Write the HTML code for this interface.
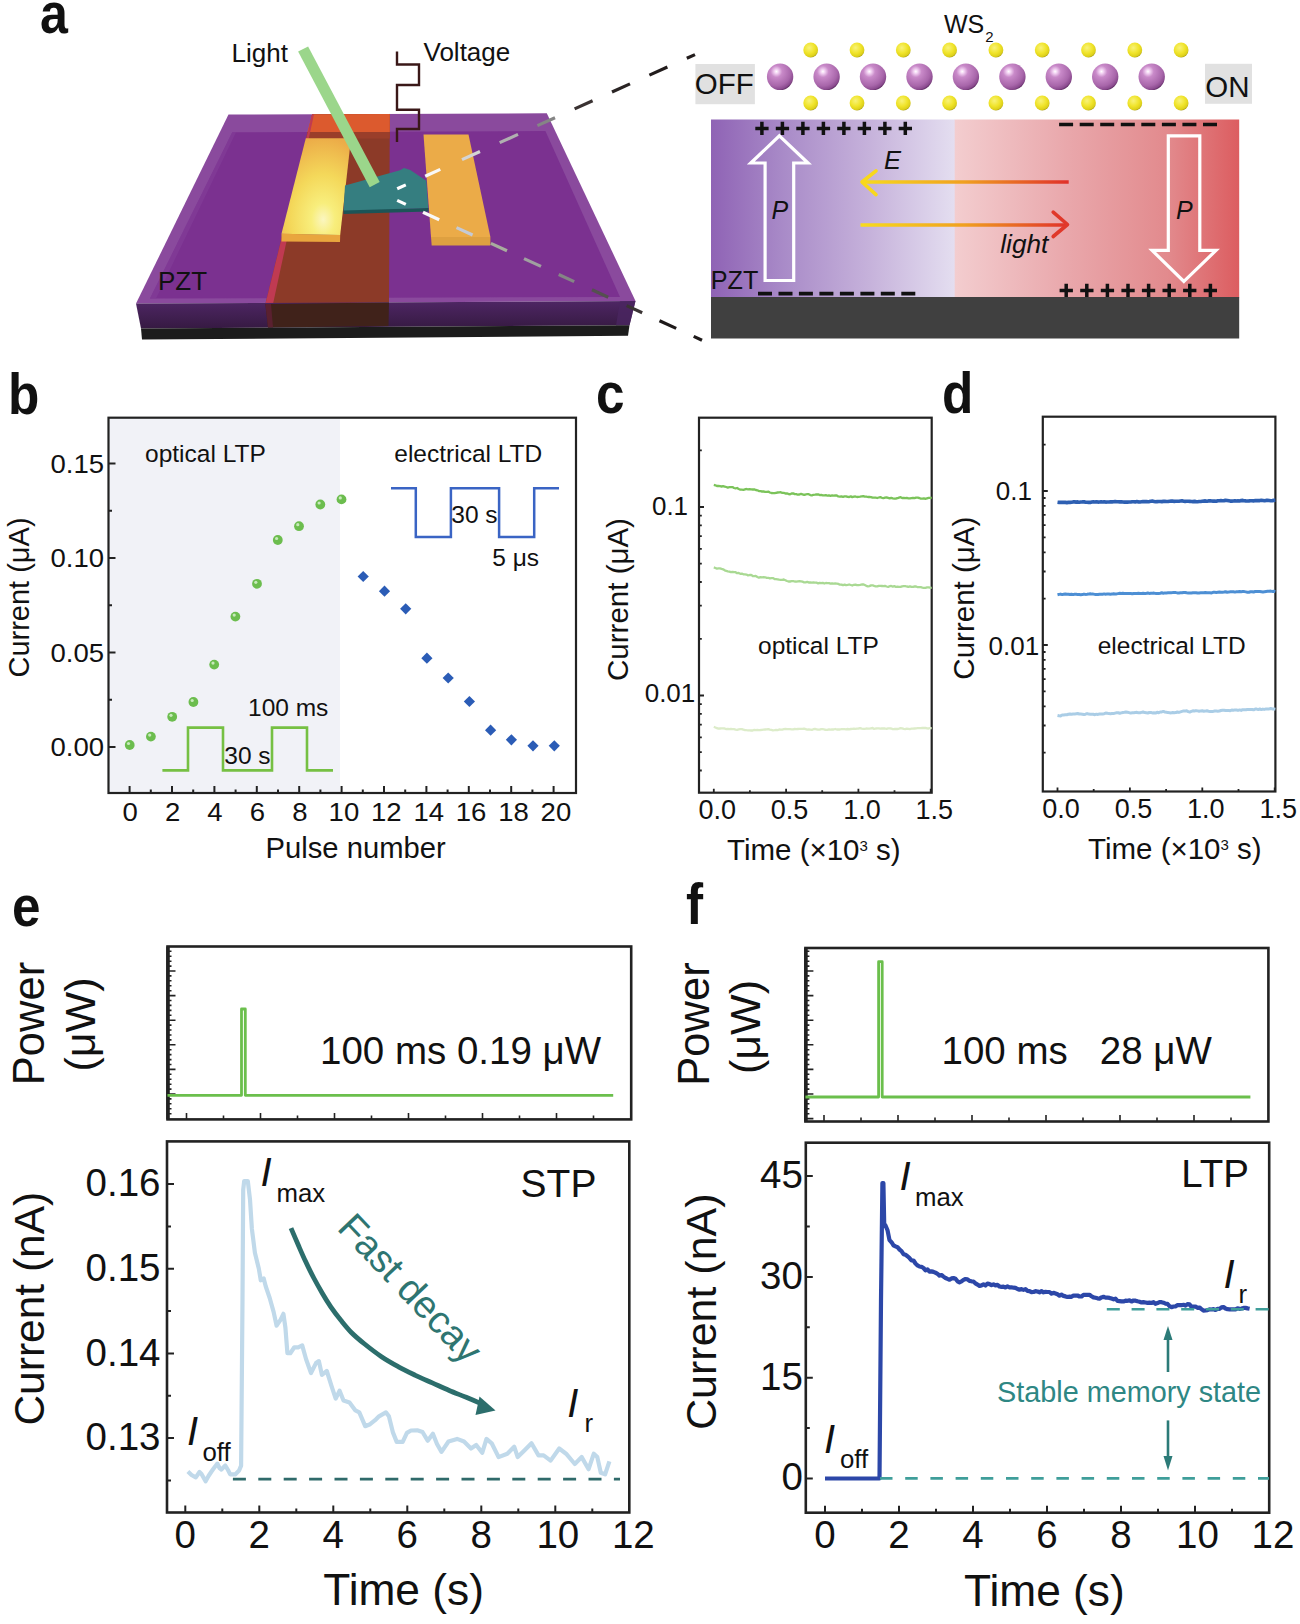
<!DOCTYPE html>
<html><head><meta charset="utf-8"><style>
html,body{margin:0;padding:0;background:#fff;}
svg{display:block;font-family:"Liberation Sans", sans-serif;}
</style></head><body>
<svg width="1300" height="1624" viewBox="0 0 1300 1624">
<rect width="1300" height="1624" fill="#ffffff"/>
<defs>
<radialGradient id="gold" cx="0.6" cy="0.84" r="0.85">
 <stop offset="0" stop-color="#fbf6c0"/><stop offset="0.2" stop-color="#f8ee7c"/><stop offset="0.55" stop-color="#f4d85a"/><stop offset="1" stop-color="#ecac48"/>
</radialGradient>
<radialGradient id="mo" cx="0.36" cy="0.3" r="0.78">
 <stop offset="0" stop-color="#ffffff"/><stop offset="0.1" stop-color="#f2d2f2"/><stop offset="0.28" stop-color="#c98ac9"/><stop offset="0.7" stop-color="#a866aa"/><stop offset="0.88" stop-color="#8a4a8e"/><stop offset="1" stop-color="#3e1442"/>
</radialGradient>
<radialGradient id="sb" cx="0.4" cy="0.35" r="0.75">
 <stop offset="0" stop-color="#f8f27a"/><stop offset="0.5" stop-color="#f0e42a"/><stop offset="0.8" stop-color="#dccf1a"/><stop offset="1" stop-color="#7a7010"/>
</radialGradient>
<linearGradient id="pzL" x1="0" y1="0" x2="1" y2="0">
 <stop offset="0" stop-color="#8f63b5"/><stop offset="0.3" stop-color="#a98bc8"/><stop offset="0.65" stop-color="#c6b2db"/><stop offset="1" stop-color="#e4def0"/>
</linearGradient>
<linearGradient id="pzR" x1="0" y1="0" x2="1" y2="0">
 <stop offset="0" stop-color="#f3cdcf"/><stop offset="0.4" stop-color="#e9a7ab"/><stop offset="0.75" stop-color="#e28a8d"/><stop offset="1" stop-color="#dc5d60"/>
</linearGradient>
<linearGradient id="arrE" x1="860" y1="0" x2="1068" y2="0" gradientUnits="userSpaceOnUse">
 <stop offset="0" stop-color="#f8dc1c"/><stop offset="0.5" stop-color="#f0a020"/><stop offset="1" stop-color="#e0302a"/>
</linearGradient>
<linearGradient id="frontP" x1="0" y1="0" x2="0" y2="1">
 <stop offset="0" stop-color="#4e2664"/><stop offset="1" stop-color="#361a42"/>
</linearGradient>
<linearGradient id="beam" x1="0" y1="0" x2="0" y2="1">
 <stop offset="0" stop-color="#9ad68a"/><stop offset="1" stop-color="#a6dc92"/>
</linearGradient>
</defs>
<text x="40.0" y="33.0" font-size="57" text-anchor="start" font-weight="bold" font-style="normal" fill="#111" transform="translate(40,0) scale(0.88,1) translate(-40,0)">a</text>
<polygon points="228.5,114.5 546.8,113.3 635.5,301.0 136.0,303.6" fill="#8a4a9d" />
<polygon points="232.3,132.3 545.4,131.0 620.0,297.0 150.0,298.5" fill="#7b3190" />
<polygon points="232.3,132.3 236.0,132.3 156.0,298.5 150.0,298.5" fill="#84409a" opacity="0.6"/>
<polygon points="312.2,114.3 389.8,114.0 389.0,302.5 265.4,304.0" fill="#8c3a28" />
<polygon points="307.4,132.0 389.8,132.0 389.8,138.5 306.0,138.5" fill="#9a3e2a" />
<polygon points="312.2,114.3 389.8,114.0 389.8,132.0 307.4,132.0" fill="#dc5a2e" />
<polygon points="312.2,114.3 314.0,114.3 273.0,304.0 265.4,304.0" fill="#c03a52" />
<polygon points="136.0,303.6 635.5,301.0 629.5,325.2 141.0,328.5" fill="url(#frontP)" />
<polygon points="265.4,304.0 389.0,302.5 388.5,326.0 268.0,327.5" fill="#40221a" />
<polygon points="265.4,304.0 271.0,304.0 273.0,327.5 268.0,327.5" fill="#5a2030" />
<polygon points="620.0,301.2 635.5,301.0 629.5,325.2 616.0,325.4" fill="#4a2560" opacity="0.8"/>
<polygon points="141.0,328.5 629.5,325.2 628.0,335.8 142.0,339.5" fill="#1c1c1c" />
<polygon points="281.5,233.8 340.2,234.9 340.0,242.0 281.5,241.5" fill="#e9a63e" />
<polygon points="305.8,138.2 351.0,138.2 340.2,234.9 281.5,233.8" fill="url(#gold)" />
<polygon points="431.0,237.0 490.4,237.0 490.4,245.4 431.7,245.4" fill="#dea040" />
<polygon points="423.5,134.5 468.5,134.5 490.4,237.0 431.0,237.0" fill="#ebab48" />
<polygon points="343.5,209.5 428.5,208.0 428.5,211.5 343.5,214.0" fill="#1c5457" />
<polygon points="345.0,185.4 400.0,170.3 404.0,168.0 410.3,170.0 426.3,180.8 428.3,208.0 343.5,210.5" fill="#357e80" />
<polygon points="298.1,51.6 308.1,46.4 379.7,182.0 369.7,187.2" fill="#9bd68b" />
<line x1="397.2" y1="188.8" x2="405.8" y2="184.9" stroke="#ffffff" stroke-width="3.2" stroke-linecap="butt"/>
<line x1="425.2" y1="176.2" x2="440.3" y2="169.4" stroke="#f8f8f8" stroke-width="3.2" stroke-linecap="butt"/>
<line x1="462.0" y1="159.6" x2="480.0" y2="151.5" stroke="#d4d4d4" stroke-width="3.2" stroke-linecap="butt"/>
<line x1="499.7" y1="142.6" x2="518.0" y2="134.4" stroke="#b0b0b0" stroke-width="3.2" stroke-linecap="butt"/>
<line x1="537.4" y1="125.6" x2="555.0" y2="117.7" stroke="#858585" stroke-width="3.2" stroke-linecap="butt"/>
<line x1="574.6" y1="108.9" x2="592.6" y2="100.7" stroke="#3a3232" stroke-width="3.2" stroke-linecap="butt"/>
<line x1="612.0" y1="92.0" x2="630.0" y2="83.9" stroke="#2a2424" stroke-width="3.2" stroke-linecap="butt"/>
<line x1="649.4" y1="75.1" x2="667.4" y2="67.0" stroke="#221c1c" stroke-width="3.2" stroke-linecap="butt"/>
<line x1="686.8" y1="58.3" x2="695.0" y2="54.6" stroke="#221c1c" stroke-width="3.2" stroke-linecap="butt"/>
<line x1="397.2" y1="200.4" x2="405.8" y2="204.4" stroke="#ffffff" stroke-width="3.2" stroke-linecap="butt"/>
<line x1="423.0" y1="212.2" x2="439.2" y2="219.7" stroke="#f8f8f8" stroke-width="3.2" stroke-linecap="butt"/>
<line x1="456.5" y1="227.6" x2="472.6" y2="235.0" stroke="#c4cad6" stroke-width="3.2" stroke-linecap="butt"/>
<line x1="490.9" y1="243.4" x2="507.0" y2="250.8" stroke="#a8ad9e" stroke-width="3.2" stroke-linecap="butt"/>
<line x1="524.0" y1="258.6" x2="541.0" y2="266.4" stroke="#a0a0a0" stroke-width="3.2" stroke-linecap="butt"/>
<line x1="558.7" y1="274.5" x2="574.2" y2="281.6" stroke="#858585" stroke-width="3.2" stroke-linecap="butt"/>
<line x1="592.0" y1="289.8" x2="608.2" y2="297.2" stroke="#555050" stroke-width="3.2" stroke-linecap="butt"/>
<line x1="626.6" y1="305.6" x2="642.2" y2="312.8" stroke="#3a3434" stroke-width="3.2" stroke-linecap="butt"/>
<line x1="659.5" y1="320.7" x2="676.2" y2="328.4" stroke="#1e1a1a" stroke-width="3.2" stroke-linecap="butt"/>
<line x1="693.7" y1="336.4" x2="702.0" y2="340.2" stroke="#1e1a1a" stroke-width="3.2" stroke-linecap="butt"/>
<text x="158.0" y="289.8" font-size="26" text-anchor="start" font-weight="normal" font-style="normal" fill="#111" >PZT</text>
<text x="231.5" y="61.5" font-size="26" text-anchor="start" font-weight="normal" font-style="normal" fill="#111" >Light</text>
<text x="423.5" y="61.2" font-size="26" text-anchor="start" font-weight="normal" font-style="normal" fill="#111" >Voltage</text>
<path d="M397,51.5 V64.5 H419 V85 H397 V109.7 H419 V129 H397 V142" stroke="#3a1818" stroke-width="2.4" fill="none" />
<rect x="711" y="119.5" width="244" height="178" fill="url(#pzL)"/>
<rect x="954.7" y="119.5" width="284.5" height="178" fill="url(#pzR)"/>
<rect x="711" y="297" width="528.2" height="41.5" fill="#404040"/>
<rect x="695.4" y="64" width="59.5" height="40.2" fill="#e1e1e1"/>
<rect x="1205" y="63.8" width="47" height="40" fill="#e1e1e1"/>
<text x="694.8" y="93.5" font-size="29.5" text-anchor="start" font-weight="normal" font-style="normal" fill="#111" >OFF</text>
<text x="1205.3" y="97.0" font-size="29.5" text-anchor="start" font-weight="normal" font-style="normal" fill="#111" >ON</text>
<text x="944.0" y="32.5" font-size="25" text-anchor="start" font-weight="normal" font-style="normal" fill="#111" >WS</text>
<text x="985.3" y="41.6" font-size="15" text-anchor="start" font-weight="normal" font-style="normal" fill="#111" >2</text>
<circle cx="780.1" cy="76.8" r="13.2" fill="url(#mo)"/>
<circle cx="826.6" cy="76.8" r="13.2" fill="url(#mo)"/>
<circle cx="873.0" cy="76.8" r="13.2" fill="url(#mo)"/>
<circle cx="919.5" cy="76.8" r="13.2" fill="url(#mo)"/>
<circle cx="965.9" cy="76.8" r="13.2" fill="url(#mo)"/>
<circle cx="1012.4" cy="76.8" r="13.2" fill="url(#mo)"/>
<circle cx="1058.8" cy="76.8" r="13.2" fill="url(#mo)"/>
<circle cx="1105.2" cy="76.8" r="13.2" fill="url(#mo)"/>
<circle cx="1151.7" cy="76.8" r="13.2" fill="url(#mo)"/>
<circle cx="810.7" cy="50" r="7.4" fill="url(#sb)"/>
<circle cx="810.7" cy="103" r="7.4" fill="url(#sb)"/>
<circle cx="857.0" cy="50" r="7.4" fill="url(#sb)"/>
<circle cx="857.0" cy="103" r="7.4" fill="url(#sb)"/>
<circle cx="903.3" cy="50" r="7.4" fill="url(#sb)"/>
<circle cx="903.3" cy="103" r="7.4" fill="url(#sb)"/>
<circle cx="949.6" cy="50" r="7.4" fill="url(#sb)"/>
<circle cx="949.6" cy="103" r="7.4" fill="url(#sb)"/>
<circle cx="995.9" cy="50" r="7.4" fill="url(#sb)"/>
<circle cx="995.9" cy="103" r="7.4" fill="url(#sb)"/>
<circle cx="1042.2" cy="50" r="7.4" fill="url(#sb)"/>
<circle cx="1042.2" cy="103" r="7.4" fill="url(#sb)"/>
<circle cx="1088.5" cy="50" r="7.4" fill="url(#sb)"/>
<circle cx="1088.5" cy="103" r="7.4" fill="url(#sb)"/>
<circle cx="1134.8" cy="50" r="7.4" fill="url(#sb)"/>
<circle cx="1134.8" cy="103" r="7.4" fill="url(#sb)"/>
<circle cx="1181.1" cy="50" r="7.4" fill="url(#sb)"/>
<circle cx="1181.1" cy="103" r="7.4" fill="url(#sb)"/>
<path d="M755.3,128.4 H768.6 M761.9,121.8 V135.1 M775.8,128.4 H789.1 M782.4,121.8 V135.1 M796.3,128.4 H809.6 M802.9,121.8 V135.1 M816.8,128.4 H830.1 M823.4,121.8 V135.1 M837.2,128.4 H850.5 M843.9,121.8 V135.1 M857.7,128.4 H871.0 M864.4,121.8 V135.1 M878.2,128.4 H891.5 M884.9,121.8 V135.1 M898.7,128.4 H912.0 M905.3,121.8 V135.1 " stroke="#111" stroke-width="3.5" fill="none" />
<path d="M758.0,293.6 H772.0 M778.5,293.6 H792.5 M798.9,293.6 H812.9 M819.4,293.6 H833.4 M839.9,293.6 H853.9 M860.4,293.6 H874.4 M880.8,293.6 H894.8 M901.3,293.6 H915.3 " stroke="#111" stroke-width="3.6" fill="none" />
<path d="M1059.1,124.5 H1073.1 M1079.7,124.5 H1093.7 M1100.2,124.5 H1114.2 M1120.8,124.5 H1134.8 M1141.3,124.5 H1155.3 M1161.9,124.5 H1175.9 M1182.4,124.5 H1196.4 M1203.0,124.5 H1217.0 " stroke="#111" stroke-width="3.6" fill="none" />
<path d="M1059.6,290.4 H1072.9 M1066.2,283.8 V297.0 M1080.2,290.4 H1093.5 M1086.8,283.8 V297.0 M1100.8,290.4 H1114.1 M1107.4,283.8 V297.0 M1121.4,290.4 H1134.7 M1128.0,283.8 V297.0 M1141.9,290.4 H1155.2 M1148.6,283.8 V297.0 M1162.5,290.4 H1175.8 M1169.2,283.8 V297.0 M1183.1,290.4 H1196.4 M1189.8,283.8 V297.0 M1203.7,290.4 H1217.0 M1210.4,283.8 V297.0 " stroke="#111" stroke-width="3.5" fill="none" />
<path d="M779.4,135.8 L808,163 L793.7,163 L793.7,280.5 L765.1,280.5 L765.1,163 L750.8,163 Z" stroke="#ffffff" stroke-width="3.2" fill="none" />
<path d="M1183.9,281.4 L1216,250.4 L1199.8,250.4 L1199.8,135.9 L1168.3,135.9 L1168.3,250.4 L1152.1,250.4 Z" stroke="#ffffff" stroke-width="3.2" fill="none" />
<text x="771.5" y="219.0" font-size="25" text-anchor="start" font-weight="normal" font-style="italic" fill="#111" >P</text>
<text x="1176.0" y="218.8" font-size="25" text-anchor="start" font-weight="normal" font-style="italic" fill="#111" >P</text>
<text x="710.8" y="289.0" font-size="25.2" text-anchor="start" font-weight="normal" font-style="normal" fill="#111" >PZT</text>
<path d="M861.7,182 H1068.7" stroke="url(#arrE)" stroke-width="3.6" fill="none" />
<path d="M876,170.8 L862,182 L876,194.6" stroke="#f8d81c" stroke-width="3.6" fill="none" stroke-linecap="round" stroke-linejoin="round"/>
<text x="884.0" y="169.4" font-size="25.5" text-anchor="start" font-weight="normal" font-style="italic" fill="#111" >E</text>
<path d="M860.5,225 H1067" stroke="url(#arrE)" stroke-width="3.6" fill="none" />
<path d="M1053.2,212.2 L1067.5,224.5 L1053.2,236.5" stroke="#e0382a" stroke-width="3.6" fill="none" stroke-linecap="round" stroke-linejoin="round"/>
<text x="1000.3" y="252.5" font-size="26.2" text-anchor="start" font-weight="normal" font-style="italic" fill="#111" >light</text>
<text x="8.0" y="414.0" font-size="57" text-anchor="start" font-weight="bold" font-style="normal" fill="#111" transform="translate(8,0) scale(0.9,1) translate(-8,0)">b</text>
<rect x="108.5" y="417.7" width="231.5" height="375.3" fill="#f1f2f7"/>
<path d="M129.6,793 V786 M150.8,793 V789.5 M172.0,793 V786 M193.2,793 V789.5 M214.4,793 V786 M235.6,793 V789.5 M256.8,793 V786 M278.0,793 V789.5 M299.2,793 V786 M320.4,793 V789.5 M341.6,793 V786 M362.8,793 V789.5 M384.0,793 V786 M405.2,793 V789.5 M426.4,793 V786 M447.6,793 V789.5 M468.8,793 V786 M490.0,793 V789.5 M511.2,793 V786 M532.4,793 V789.5 M553.6,793 V786 M108.5,747.0 H115.5 M108.5,699.8 H112.0 M108.5,652.5 H115.5 M108.5,605.2 H112.0 M108.5,558.0 H115.5 M108.5,510.7 H112.0 M108.5,463.5 H115.5 " stroke="#222" stroke-width="2" fill="none" />
<rect x="108.5" y="417.7" width="467.5" height="375.3" fill="none" stroke="#222" stroke-width="2.2"/>
<text x="0" y="0" transform="translate(104.0,472.5) scale(1.08,1)" font-size="25.5" text-anchor="end" font-weight="normal" font-style="normal" fill="#111" >0.15</text>
<text x="0" y="0" transform="translate(104.0,567.0) scale(1.08,1)" font-size="25.5" text-anchor="end" font-weight="normal" font-style="normal" fill="#111" >0.10</text>
<text x="0" y="0" transform="translate(104.0,661.5) scale(1.08,1)" font-size="25.5" text-anchor="end" font-weight="normal" font-style="normal" fill="#111" >0.05</text>
<text x="0" y="0" transform="translate(104.0,756.0) scale(1.08,1)" font-size="25.5" text-anchor="end" font-weight="normal" font-style="normal" fill="#111" >0.00</text>
<text x="0" y="0" transform="translate(130.2,820.5) scale(1.08,1)" font-size="25.5" text-anchor="middle" font-weight="normal" font-style="normal" fill="#111" >0</text>
<text x="0" y="0" transform="translate(172.6,820.5) scale(1.08,1)" font-size="25.5" text-anchor="middle" font-weight="normal" font-style="normal" fill="#111" >2</text>
<text x="0" y="0" transform="translate(215.0,820.5) scale(1.08,1)" font-size="25.5" text-anchor="middle" font-weight="normal" font-style="normal" fill="#111" >4</text>
<text x="0" y="0" transform="translate(257.4,820.5) scale(1.08,1)" font-size="25.5" text-anchor="middle" font-weight="normal" font-style="normal" fill="#111" >6</text>
<text x="0" y="0" transform="translate(299.8,820.5) scale(1.08,1)" font-size="25.5" text-anchor="middle" font-weight="normal" font-style="normal" fill="#111" >8</text>
<text x="0" y="0" transform="translate(343.9,820.5) scale(1.08,1)" font-size="25.5" text-anchor="middle" font-weight="normal" font-style="normal" fill="#111" >10</text>
<text x="0" y="0" transform="translate(386.3,820.5) scale(1.08,1)" font-size="25.5" text-anchor="middle" font-weight="normal" font-style="normal" fill="#111" >12</text>
<text x="0" y="0" transform="translate(428.7,820.5) scale(1.08,1)" font-size="25.5" text-anchor="middle" font-weight="normal" font-style="normal" fill="#111" >14</text>
<text x="0" y="0" transform="translate(471.1,820.5) scale(1.08,1)" font-size="25.5" text-anchor="middle" font-weight="normal" font-style="normal" fill="#111" >16</text>
<text x="0" y="0" transform="translate(513.5,820.5) scale(1.08,1)" font-size="25.5" text-anchor="middle" font-weight="normal" font-style="normal" fill="#111" >18</text>
<text x="0" y="0" transform="translate(555.9,820.5) scale(1.08,1)" font-size="25.5" text-anchor="middle" font-weight="normal" font-style="normal" fill="#111" >20</text>
<text x="355.6" y="857.5" font-size="29.2" text-anchor="middle" font-weight="normal" font-style="normal" fill="#111" >Pulse number</text>
<text x="0.0" y="0.0" font-size="29" text-anchor="middle" font-weight="normal" font-style="normal" fill="#111" transform="translate(29,597.5) rotate(-90)">Current (μA)</text>
<text x="145.0" y="462.3" font-size="24.5" text-anchor="start" font-weight="normal" font-style="normal" fill="#111" >optical LTP</text>
<text x="394.3" y="462.3" font-size="24.5" text-anchor="start" font-weight="normal" font-style="normal" fill="#111" >electrical LTD</text>
<path d="M162.4,770.4 H188 V727.6 H223 V770.4 H272 V727.6 H307 V770.4 H333" stroke="#76c043" stroke-width="2.6" fill="none" />
<text x="248.0" y="716.3" font-size="24.5" text-anchor="start" font-weight="normal" font-style="normal" fill="#111" >100 ms</text>
<text x="224.3" y="764.0" font-size="24.5" text-anchor="start" font-weight="normal" font-style="normal" fill="#111" >30 s</text>
<path d="M391,488.2 H415.8 V537.1 H450.9 V488.2 H499.1 V537.1 H534.2 V488.2 H559" stroke="#3a64c4" stroke-width="2.5" fill="none" />
<text x="451.3" y="523.3" font-size="24.5" text-anchor="start" font-weight="normal" font-style="normal" fill="#111" >30 s</text>
<text x="492.3" y="566.3" font-size="24.5" text-anchor="start" font-weight="normal" font-style="normal" fill="#111" >5 μs</text>
<circle cx="129.7" cy="745" r="4.9" fill="#6cbd4e"/>
<circle cx="128.5" cy="743.5" r="1.6" fill="#c8eabb"/>
<circle cx="150.9" cy="736.6" r="4.9" fill="#6cbd4e"/>
<circle cx="149.70000000000002" cy="735.1" r="1.6" fill="#c8eabb"/>
<circle cx="172.2" cy="716.8" r="4.9" fill="#6cbd4e"/>
<circle cx="171.0" cy="715.3" r="1.6" fill="#c8eabb"/>
<circle cx="193.4" cy="702" r="4.9" fill="#6cbd4e"/>
<circle cx="192.20000000000002" cy="700.5" r="1.6" fill="#c8eabb"/>
<circle cx="214.2" cy="664.6" r="4.9" fill="#6cbd4e"/>
<circle cx="213.0" cy="663.1" r="1.6" fill="#c8eabb"/>
<circle cx="235.4" cy="616.6" r="4.9" fill="#6cbd4e"/>
<circle cx="234.20000000000002" cy="615.1" r="1.6" fill="#c8eabb"/>
<circle cx="257" cy="583.8" r="4.9" fill="#6cbd4e"/>
<circle cx="255.8" cy="582.3" r="1.6" fill="#c8eabb"/>
<circle cx="277.8" cy="540" r="4.9" fill="#6cbd4e"/>
<circle cx="276.6" cy="538.5" r="1.6" fill="#c8eabb"/>
<circle cx="299" cy="526.2" r="4.9" fill="#6cbd4e"/>
<circle cx="297.8" cy="524.7" r="1.6" fill="#c8eabb"/>
<circle cx="320.3" cy="504.5" r="4.9" fill="#6cbd4e"/>
<circle cx="319.1" cy="503.0" r="1.6" fill="#c8eabb"/>
<circle cx="341.5" cy="499.4" r="4.9" fill="#6cbd4e"/>
<circle cx="340.3" cy="497.9" r="1.6" fill="#c8eabb"/>
<path d="M363.2,570.9 L368.8,576.5 L363.2,582.1 L357.59999999999997,576.5 Z" fill="#2b5cb6"/>
<path d="M384.5,585.6 L390.1,591.2 L384.5,596.8000000000001 L378.9,591.2 Z" fill="#2b5cb6"/>
<path d="M405.7,603.1999999999999 L411.3,608.8 L405.7,614.4 L400.09999999999997,608.8 Z" fill="#2b5cb6"/>
<path d="M426.9,652.6 L432.5,658.2 L426.9,663.8000000000001 L421.29999999999995,658.2 Z" fill="#2b5cb6"/>
<path d="M448.2,672.4 L453.8,678 L448.2,683.6 L442.59999999999997,678 Z" fill="#2b5cb6"/>
<path d="M469.4,695.9 L475.0,701.5 L469.4,707.1 L463.79999999999995,701.5 Z" fill="#2b5cb6"/>
<path d="M490.6,724.6 L496.20000000000005,730.2 L490.6,735.8000000000001 L485.0,730.2 Z" fill="#2b5cb6"/>
<path d="M511.4,734.1999999999999 L517.0,739.8 L511.4,745.4 L505.79999999999995,739.8 Z" fill="#2b5cb6"/>
<path d="M533,740.1999999999999 L538.6,745.8 L533,751.4 L527.4,745.8 Z" fill="#2b5cb6"/>
<path d="M554.3,740.1999999999999 L559.9,745.8 L554.3,751.4 L548.6999999999999,745.8 Z" fill="#2b5cb6"/>
<path d="M699,770.5 H701.8 M699,752.2 H701.8 M699,737.3 H701.8 M699,724.7 H701.8 M699,713.8 H701.8 M699,704.1 H701.8 M699,695.5 H704 M699,638.8 H701.8 M699,605.6 H701.8 M699,582.0 H701.8 M699,563.7 H701.8 M699,548.8 H701.8 M699,536.2 H701.8 M699,525.3 H701.8 M699,515.6 H701.8 M699,507.0 H704 M699,450.3 H701.8 M713.8,792.7 V788.7 M749.9,792.7 V790.2 M786.1,792.7 V788.7 M822.2,792.7 V790.2 M858.4,792.7 V788.7 M894.5,792.7 V790.2 M930.7,792.7 V788.7 " stroke="#222" stroke-width="1.8" fill="none" />
<rect x="699" y="417.7" width="232.7" height="375.0" fill="none" stroke="#222" stroke-width="2.2"/>
<path d="M713.8,484.9 L715.4,485.3 L716.9,486.0 L718.5,486.0 L720.0,486.2 L721.6,486.5 L723.1,486.2 L724.7,486.6 L726.3,487.0 L727.8,487.6 L729.4,487.2 L730.9,487.2 L732.5,487.1 L734.0,488.0 L735.6,488.4 L737.1,488.0 L738.7,489.0 L740.3,489.6 L741.8,489.7 L743.4,489.8 L744.9,489.3 L746.5,489.0 L748.0,489.4 L749.6,489.2 L751.2,489.3 L752.7,489.5 L754.3,489.4 L755.8,490.0 L757.4,490.3 L758.9,491.1 L760.5,491.2 L762.0,491.5 L763.6,491.5 L765.2,491.8 L766.7,491.8 L768.3,491.6 L769.8,492.5 L771.4,493.0 L772.9,493.2 L774.5,493.2 L776.1,492.8 L777.6,492.5 L779.2,492.4 L780.7,492.2 L782.3,492.9 L783.8,492.9 L785.4,493.5 L787.0,493.4 L788.5,494.0 L790.1,494.3 L791.6,493.5 L793.2,493.4 L794.7,494.1 L796.3,494.1 L797.8,494.7 L799.4,494.5 L801.0,493.9 L802.5,494.3 L804.1,494.8 L805.6,494.5 L807.2,494.1 L808.7,494.2 L810.3,495.1 L811.9,495.4 L813.4,494.8 L815.0,494.7 L816.5,494.5 L818.1,494.3 L819.6,495.1 L821.2,494.9 L822.8,495.3 L824.3,495.4 L825.9,495.1 L827.4,495.7 L829.0,495.3 L830.5,495.8 L832.1,495.4 L833.6,495.6 L835.2,495.5 L836.8,495.5 L838.3,496.4 L839.9,496.7 L841.4,496.4 L843.0,496.9 L844.5,496.4 L846.1,496.3 L847.7,496.9 L849.2,497.0 L850.8,496.4 L852.3,497.1 L853.9,496.7 L855.4,496.5 L857.0,497.0 L858.5,496.8 L860.1,496.6 L861.7,496.3 L863.2,496.1 L864.8,496.7 L866.3,496.6 L867.9,497.0 L869.4,497.0 L871.0,497.1 L872.6,497.7 L874.1,497.6 L875.7,497.6 L877.2,498.0 L878.8,497.5 L880.3,497.1 L881.9,497.8 L883.5,498.1 L885.0,497.7 L886.6,497.3 L888.1,497.8 L889.7,498.3 L891.2,497.8 L892.8,498.3 L894.3,498.6 L895.9,498.5 L897.5,498.2 L899.0,497.6 L900.6,497.2 L902.1,498.1 L903.7,497.8 L905.2,498.2 L906.8,497.9 L908.4,498.4 L909.9,498.4 L911.5,498.1 L913.0,497.8 L914.6,498.2 L916.1,497.7 L917.7,497.7 L919.2,498.0 L920.8,498.6 L922.4,498.6 L923.9,498.3 L925.5,498.9 L927.0,498.3 L928.6,497.8 L930.1,497.8 L931.7,498.0" stroke="#7bc35a" stroke-width="2.3" fill="none" stroke-linejoin="round"/>
<path d="M713.8,567.4 L715.4,568.0 L716.9,568.6 L718.5,568.4 L720.0,568.4 L721.6,568.9 L723.1,569.3 L724.7,570.3 L726.3,570.9 L727.8,571.3 L729.4,571.6 L730.9,572.1 L732.5,571.8 L734.0,572.2 L735.6,572.2 L737.1,573.2 L738.7,573.0 L740.3,573.8 L741.8,573.6 L743.4,574.3 L744.9,574.4 L746.5,574.6 L748.0,575.4 L749.6,575.0 L751.2,574.9 L752.7,576.0 L754.3,576.2 L755.8,576.0 L757.4,577.0 L758.9,577.7 L760.5,577.1 L762.0,577.3 L763.6,577.1 L765.2,577.3 L766.7,577.9 L768.3,577.8 L769.8,578.4 L771.4,578.1 L772.9,578.1 L774.5,579.0 L776.1,579.1 L777.6,579.3 L779.2,579.6 L780.7,579.8 L782.3,579.8 L783.8,579.5 L785.4,580.2 L787.0,581.0 L788.5,581.5 L790.1,581.5 L791.6,581.2 L793.2,581.1 L794.7,581.5 L796.3,581.7 L797.8,581.3 L799.4,581.2 L801.0,581.4 L802.5,581.7 L804.1,582.3 L805.6,582.3 L807.2,581.8 L808.7,582.5 L810.3,582.5 L811.9,582.7 L813.4,582.5 L815.0,582.6 L816.5,582.7 L818.1,583.3 L819.6,582.8 L821.2,583.2 L822.8,582.9 L824.3,583.5 L825.9,583.0 L827.4,583.1 L829.0,583.2 L830.5,583.7 L832.1,583.3 L833.6,583.6 L835.2,583.5 L836.8,583.6 L838.3,583.9 L839.9,584.7 L841.4,584.6 L843.0,585.2 L844.5,584.6 L846.1,585.2 L847.7,584.9 L849.2,584.5 L850.8,585.0 L852.3,585.5 L853.9,584.8 L855.4,584.7 L857.0,585.2 L858.5,585.1 L860.1,584.9 L861.7,584.5 L863.2,584.3 L864.8,585.0 L866.3,585.8 L867.9,586.3 L869.4,586.1 L871.0,585.4 L872.6,585.3 L874.1,585.9 L875.7,586.3 L877.2,586.3 L878.8,585.8 L880.3,585.9 L881.9,586.0 L883.5,586.2 L885.0,585.9 L886.6,586.5 L888.1,586.9 L889.7,586.2 L891.2,586.0 L892.8,586.6 L894.3,586.2 L895.9,586.8 L897.5,586.7 L899.0,586.8 L900.6,586.9 L902.1,586.4 L903.7,586.2 L905.2,586.1 L906.8,586.5 L908.4,586.8 L909.9,586.3 L911.5,586.9 L913.0,586.8 L914.6,586.5 L916.1,586.5 L917.7,587.2 L919.2,587.1 L920.8,587.2 L922.4,587.6 L923.9,587.9 L925.5,587.8 L927.0,587.4 L928.6,587.3 L930.1,587.7 L931.7,587.8" stroke="#a9d993" stroke-width="2.3" fill="none" stroke-linejoin="round"/>
<path d="M713.8,726.8 L715.4,727.5 L716.9,728.1 L718.5,728.7 L720.0,728.5 L721.6,728.4 L723.1,728.4 L724.7,728.5 L726.3,729.1 L727.8,728.9 L729.4,729.2 L730.9,729.0 L732.5,729.1 L734.0,729.2 L735.6,729.7 L737.1,729.8 L738.7,729.3 L740.3,729.2 L741.8,729.1 L743.4,729.7 L744.9,730.0 L746.5,730.2 L748.0,730.3 L749.6,730.3 L751.2,730.5 L752.7,730.5 L754.3,729.9 L755.8,730.2 L757.4,730.0 L758.9,730.1 L760.5,730.0 L762.0,729.8 L763.6,729.6 L765.2,729.5 L766.7,729.4 L768.3,729.1 L769.8,729.6 L771.4,729.9 L772.9,730.3 L774.5,730.2 L776.1,730.0 L777.6,730.1 L779.2,729.5 L780.7,729.7 L782.3,729.6 L783.8,729.2 L785.4,729.0 L787.0,729.2 L788.5,729.1 L790.1,729.2 L791.6,729.4 L793.2,729.3 L794.7,729.0 L796.3,729.1 L797.8,729.0 L799.4,728.9 L801.0,728.8 L802.5,728.9 L804.1,728.6 L805.6,729.1 L807.2,729.6 L808.7,729.4 L810.3,729.6 L811.9,729.9 L813.4,729.2 L815.0,728.9 L816.5,729.3 L818.1,729.7 L819.6,729.6 L821.2,729.1 L822.8,729.1 L824.3,729.5 L825.9,729.8 L827.4,729.9 L829.0,729.3 L830.5,729.6 L832.1,729.3 L833.6,729.5 L835.2,729.0 L836.8,729.5 L838.3,729.5 L839.9,729.5 L841.4,729.1 L843.0,729.2 L844.5,729.2 L846.1,729.3 L847.7,729.0 L849.2,729.3 L850.8,729.0 L852.3,728.8 L853.9,728.6 L855.4,728.9 L857.0,728.6 L858.5,728.5 L860.1,728.2 L861.7,728.7 L863.2,728.8 L864.8,728.9 L866.3,728.5 L867.9,728.6 L869.4,728.6 L871.0,728.3 L872.6,728.0 L874.1,728.9 L875.7,728.5 L877.2,728.4 L878.8,728.4 L880.3,728.7 L881.9,728.3 L883.5,728.5 L885.0,728.5 L886.6,728.9 L888.1,728.4 L889.7,728.4 L891.2,728.5 L892.8,729.1 L894.3,729.0 L895.9,728.8 L897.5,729.0 L899.0,728.7 L900.6,728.2 L902.1,728.4 L903.7,728.9 L905.2,729.1 L906.8,728.7 L908.4,728.8 L909.9,729.1 L911.5,728.7 L913.0,728.7 L914.6,728.5 L916.1,728.3 L917.7,728.2 L919.2,728.1 L920.8,728.1 L922.4,727.8 L923.9,728.0 L925.5,727.8 L927.0,728.3 L928.6,728.5 L930.1,728.0 L931.7,728.5" stroke="#dcecc9" stroke-width="2.3" fill="none" stroke-linejoin="round"/>
<text x="670.0" y="514.8" font-size="26" text-anchor="middle" font-weight="normal" font-style="normal" fill="#111" >0.1</text>
<text x="670.0" y="701.8" font-size="26" text-anchor="middle" font-weight="normal" font-style="normal" fill="#111" >0.01</text>
<text x="717.3" y="819.0" font-size="27" text-anchor="middle" font-weight="normal" font-style="normal" fill="#111" >0.0</text>
<text x="789.6" y="819.0" font-size="27" text-anchor="middle" font-weight="normal" font-style="normal" fill="#111" >0.5</text>
<text x="861.9" y="819.0" font-size="27" text-anchor="middle" font-weight="normal" font-style="normal" fill="#111" >1.0</text>
<text x="934.2" y="819.0" font-size="27" text-anchor="middle" font-weight="normal" font-style="normal" fill="#111" >1.5</text>
<text x="758.0" y="654.0" font-size="24.5" text-anchor="start" font-weight="normal" font-style="normal" fill="#111" >optical LTP</text>
<text x="596.0" y="412.6" font-size="57" text-anchor="start" font-weight="bold" font-style="normal" fill="#111" transform="translate(596,0) scale(0.9,1) translate(-596,0)">c</text>
<path d="M1042.8,752.6 H1045.6 M1042.8,725.5 H1045.6 M1042.8,706.3 H1045.6 M1042.8,691.4 H1045.6 M1042.8,679.2 H1045.6 M1042.8,668.9 H1045.6 M1042.8,659.9 H1045.6 M1042.8,652.0 H1045.6 M1042.8,645.0 H1047.8 M1042.8,598.6 H1045.6 M1042.8,571.5 H1045.6 M1042.8,552.3 H1045.6 M1042.8,537.4 H1045.6 M1042.8,525.2 H1045.6 M1042.8,514.9 H1045.6 M1042.8,505.9 H1045.6 M1042.8,498.0 H1045.6 M1042.8,491.0 H1047.8 M1042.8,444.6 H1045.6 M1057.5,791.5 V787.5 M1093.7,791.5 V789.0 M1129.9,791.5 V787.5 M1166.1,791.5 V789.0 M1202.3,791.5 V787.5 M1238.5,791.5 V789.0 M1274.7,791.5 V787.5 " stroke="#222" stroke-width="1.8" fill="none" />
<rect x="1042.8" y="416.7" width="232.6" height="374.8" fill="none" stroke="#222" stroke-width="2.2"/>
<path d="M1057.5,502.2 L1059.1,502.4 L1060.6,502.4 L1062.2,502.4 L1063.7,502.2 L1065.3,502.4 L1066.8,502.6 L1068.4,502.4 L1070.0,502.4 L1071.5,502.2 L1073.1,501.9 L1074.6,501.9 L1076.2,502.1 L1077.7,501.9 L1079.3,502.2 L1080.8,502.0 L1082.4,501.9 L1084.0,501.7 L1085.5,502.2 L1087.1,502.3 L1088.6,502.4 L1090.2,502.4 L1091.7,502.0 L1093.3,501.9 L1094.9,502.0 L1096.4,501.7 L1098.0,502.1 L1099.5,502.0 L1101.1,501.8 L1102.6,502.0 L1104.2,501.8 L1105.7,502.1 L1107.3,502.0 L1108.9,502.0 L1110.4,501.9 L1112.0,501.9 L1113.5,501.7 L1115.1,501.5 L1116.6,501.8 L1118.2,501.7 L1119.8,501.9 L1121.3,501.7 L1122.9,502.0 L1124.4,502.1 L1126.0,502.1 L1127.5,502.1 L1129.1,502.0 L1130.7,502.0 L1132.2,501.7 L1133.8,501.7 L1135.3,501.9 L1136.9,501.6 L1138.4,501.9 L1140.0,502.0 L1141.5,501.8 L1143.1,501.6 L1144.7,501.6 L1146.2,501.5 L1147.8,501.8 L1149.3,501.6 L1150.9,501.3 L1152.4,501.1 L1154.0,501.4 L1155.6,501.7 L1157.1,501.6 L1158.7,501.5 L1160.2,501.5 L1161.8,501.6 L1163.3,501.4 L1164.9,501.4 L1166.5,501.5 L1168.0,501.5 L1169.6,501.2 L1171.1,501.1 L1172.7,501.1 L1174.2,501.4 L1175.8,501.3 L1177.3,501.3 L1178.9,501.2 L1180.5,501.0 L1182.0,500.8 L1183.6,501.2 L1185.1,501.4 L1186.7,501.2 L1188.2,501.3 L1189.8,501.4 L1191.4,501.5 L1192.9,501.6 L1194.5,501.4 L1196.0,501.6 L1197.6,501.7 L1199.1,501.5 L1200.7,501.5 L1202.2,501.3 L1203.8,501.1 L1205.4,500.9 L1206.9,501.2 L1208.5,500.9 L1210.0,500.7 L1211.6,501.0 L1213.1,501.1 L1214.7,501.0 L1216.3,501.2 L1217.8,500.8 L1219.4,500.7 L1220.9,500.6 L1222.5,500.7 L1224.0,500.6 L1225.6,500.4 L1227.2,500.5 L1228.7,500.8 L1230.3,501.1 L1231.8,501.1 L1233.4,501.0 L1234.9,500.7 L1236.5,501.0 L1238.0,500.9 L1239.6,501.0 L1241.2,500.6 L1242.7,500.4 L1244.3,500.7 L1245.8,500.9 L1247.4,501.0 L1248.9,500.9 L1250.5,500.7 L1252.1,500.7 L1253.6,500.9 L1255.2,500.6 L1256.7,500.6 L1258.3,500.5 L1259.8,500.6 L1261.4,500.3 L1262.9,500.5 L1264.5,500.8 L1266.1,500.4 L1267.6,500.4 L1269.2,500.5 L1270.7,500.7 L1272.3,500.6 L1273.8,500.4 L1275.4,500.3" stroke="#2d5fb2" stroke-width="3.6" fill="none" stroke-linejoin="round"/>
<path d="M1057.5,594.8 L1059.1,594.4 L1060.6,594.1 L1062.2,594.6 L1063.7,594.3 L1065.3,594.0 L1066.8,594.3 L1068.4,594.2 L1070.0,594.5 L1071.5,594.2 L1073.1,594.6 L1074.6,594.3 L1076.2,594.3 L1077.7,594.6 L1079.3,594.5 L1080.8,594.7 L1082.4,594.6 L1084.0,594.1 L1085.5,594.4 L1087.1,594.3 L1088.6,594.1 L1090.2,593.8 L1091.7,594.1 L1093.3,594.1 L1094.9,594.4 L1096.4,594.4 L1098.0,594.5 L1099.5,594.3 L1101.1,594.3 L1102.6,594.2 L1104.2,593.9 L1105.7,594.2 L1107.3,593.9 L1108.9,594.0 L1110.4,594.2 L1112.0,594.1 L1113.5,593.7 L1115.1,593.9 L1116.6,593.9 L1118.2,593.6 L1119.8,593.3 L1121.3,593.4 L1122.9,593.2 L1124.4,593.6 L1126.0,593.6 L1127.5,593.6 L1129.1,593.5 L1130.7,593.6 L1132.2,593.8 L1133.8,593.5 L1135.3,593.4 L1136.9,593.4 L1138.4,593.3 L1140.0,593.4 L1141.5,593.4 L1143.1,593.3 L1144.7,593.4 L1146.2,593.4 L1147.8,593.0 L1149.3,593.4 L1150.9,593.2 L1152.4,593.2 L1154.0,593.1 L1155.6,593.4 L1157.1,593.6 L1158.7,593.4 L1160.2,593.2 L1161.8,592.8 L1163.3,593.2 L1164.9,592.9 L1166.5,592.9 L1168.0,592.8 L1169.6,592.8 L1171.1,592.7 L1172.7,592.6 L1174.2,592.4 L1175.8,592.6 L1177.3,592.9 L1178.9,592.9 L1180.5,592.7 L1182.0,592.8 L1183.6,592.5 L1185.1,592.5 L1186.7,592.8 L1188.2,593.0 L1189.8,592.9 L1191.4,593.0 L1192.9,592.8 L1194.5,592.8 L1196.0,592.7 L1197.6,593.0 L1199.1,593.0 L1200.7,592.8 L1202.2,592.8 L1203.8,592.8 L1205.4,592.5 L1206.9,592.7 L1208.5,592.8 L1210.0,592.7 L1211.6,592.9 L1213.1,592.3 L1214.7,592.3 L1216.3,592.4 L1217.8,592.2 L1219.4,592.0 L1220.9,592.2 L1222.5,592.2 L1224.0,592.0 L1225.6,591.7 L1227.2,592.2 L1228.7,592.1 L1230.3,591.8 L1231.8,591.7 L1233.4,591.7 L1234.9,592.1 L1236.5,591.8 L1238.0,591.7 L1239.6,591.5 L1241.2,591.7 L1242.7,591.6 L1244.3,591.6 L1245.8,591.9 L1247.4,592.2 L1248.9,592.3 L1250.5,591.8 L1252.1,591.7 L1253.6,592.0 L1255.2,591.5 L1256.7,591.4 L1258.3,591.5 L1259.8,591.5 L1261.4,591.7 L1262.9,591.9 L1264.5,591.7 L1266.1,591.5 L1267.6,591.3 L1269.2,591.3 L1270.7,591.1 L1272.3,591.4 L1273.8,591.2 L1275.4,591.6" stroke="#4d8fd4" stroke-width="3.0" fill="none" stroke-linejoin="round"/>
<path d="M1057.5,715.5 L1059.1,715.8 L1060.6,715.9 L1062.2,715.0 L1063.7,715.0 L1065.3,714.8 L1066.8,714.8 L1068.4,714.3 L1070.0,714.0 L1071.5,714.2 L1073.1,714.0 L1074.6,714.1 L1076.2,713.7 L1077.7,713.5 L1079.3,714.1 L1080.8,714.1 L1082.4,714.2 L1084.0,714.5 L1085.5,714.2 L1087.1,713.6 L1088.6,714.1 L1090.2,714.2 L1091.7,714.3 L1093.3,714.3 L1094.9,714.7 L1096.4,714.2 L1098.0,714.4 L1099.5,714.0 L1101.1,714.0 L1102.6,714.0 L1104.2,713.7 L1105.7,713.1 L1107.3,713.3 L1108.9,713.6 L1110.4,713.7 L1112.0,713.5 L1113.5,713.6 L1115.1,713.1 L1116.6,712.8 L1118.2,712.8 L1119.8,713.3 L1121.3,712.9 L1122.9,712.5 L1124.4,712.3 L1126.0,712.0 L1127.5,712.2 L1129.1,712.6 L1130.7,713.1 L1132.2,712.8 L1133.8,712.7 L1135.3,712.5 L1136.9,712.3 L1138.4,712.8 L1140.0,712.8 L1141.5,712.4 L1143.1,712.0 L1144.7,712.6 L1146.2,712.8 L1147.8,713.0 L1149.3,712.5 L1150.9,712.5 L1152.4,712.9 L1154.0,712.8 L1155.6,713.1 L1157.1,712.3 L1158.7,712.8 L1160.2,712.0 L1161.8,711.9 L1163.3,711.4 L1164.9,712.0 L1166.5,712.2 L1168.0,712.6 L1169.6,712.7 L1171.1,712.9 L1172.7,712.5 L1174.2,712.8 L1175.8,712.6 L1177.3,712.0 L1178.9,712.4 L1180.5,711.9 L1182.0,711.4 L1183.6,710.9 L1185.1,711.1 L1186.7,710.8 L1188.2,711.6 L1189.8,712.0 L1191.4,711.4 L1192.9,710.8 L1194.5,711.0 L1196.0,710.6 L1197.6,710.9 L1199.1,711.3 L1200.7,710.9 L1202.2,710.8 L1203.8,711.3 L1205.4,711.1 L1206.9,710.8 L1208.5,711.3 L1210.0,711.4 L1211.6,711.6 L1213.1,711.4 L1214.7,711.0 L1216.3,711.1 L1217.8,711.2 L1219.4,711.1 L1220.9,710.5 L1222.5,710.2 L1224.0,710.2 L1225.6,710.5 L1227.2,710.5 L1228.7,710.5 L1230.3,710.7 L1231.8,710.0 L1233.4,710.2 L1234.9,709.9 L1236.5,710.0 L1238.0,710.4 L1239.6,709.9 L1241.2,710.4 L1242.7,709.7 L1244.3,709.8 L1245.8,709.8 L1247.4,709.5 L1248.9,709.6 L1250.5,709.6 L1252.1,709.5 L1253.6,709.8 L1255.2,709.1 L1256.7,709.1 L1258.3,709.6 L1259.8,709.0 L1261.4,709.6 L1262.9,709.1 L1264.5,709.4 L1266.1,708.9 L1267.6,708.9 L1269.2,708.9 L1270.7,708.5 L1272.3,708.9 L1273.8,708.9 L1275.4,709.2" stroke="#aacde6" stroke-width="3.0" fill="none" stroke-linejoin="round"/>
<text x="1013.8" y="500.2" font-size="26" text-anchor="middle" font-weight="normal" font-style="normal" fill="#111" >0.1</text>
<text x="1013.8" y="655.2" font-size="26" text-anchor="middle" font-weight="normal" font-style="normal" fill="#111" >0.01</text>
<text x="1061.0" y="817.8" font-size="27" text-anchor="middle" font-weight="normal" font-style="normal" fill="#111" >0.0</text>
<text x="1133.4" y="817.8" font-size="27" text-anchor="middle" font-weight="normal" font-style="normal" fill="#111" >0.5</text>
<text x="1205.8" y="817.8" font-size="27" text-anchor="middle" font-weight="normal" font-style="normal" fill="#111" >1.0</text>
<text x="1278.2" y="817.8" font-size="27" text-anchor="middle" font-weight="normal" font-style="normal" fill="#111" >1.5</text>
<text x="1097.7" y="653.6" font-size="24.5" text-anchor="start" font-weight="normal" font-style="normal" fill="#111" >electrical LTD</text>
<text x="942.0" y="412.6" font-size="57" text-anchor="start" font-weight="bold" font-style="normal" fill="#111" transform="translate(942,0) scale(0.9,1) translate(-942,0)">d</text>
<text x="0.0" y="0.0" font-size="29.5" text-anchor="middle" font-weight="normal" font-style="normal" fill="#111" transform="translate(627.5,599.5) rotate(-90)">Current (μA)</text>
<text x="0.0" y="0.0" font-size="29.5" text-anchor="middle" font-weight="normal" font-style="normal" fill="#111" transform="translate(974,598.2) rotate(-90)">Current (μA)</text>
<text x="727" y="859.7" font-size="29.5" fill="#111">Time (×10<tspan font-size="15" dy="-8.5">3</tspan><tspan dy="8.5"> s)</tspan></text>
<text x="1088" y="858.5" font-size="29.5" fill="#111">Time (×10<tspan font-size="15" dy="-8.5">3</tspan><tspan dy="8.5"> s)</tspan></text>
<path d="M167.5,951.3 H171.5 M167.5,956.2 H171.5 M167.5,961.2 H171.5 M167.5,966.1 H171.5 M167.5,971.0 H175.5 M167.5,975.9 H171.5 M167.5,980.8 H171.5 M167.5,985.8 H171.5 M167.5,990.7 H171.5 M167.5,995.6 H175.5 M167.5,1000.5 H171.5 M167.5,1005.4 H171.5 M167.5,1010.4 H171.5 M167.5,1015.3 H171.5 M167.5,1020.2 H175.5 M167.5,1025.1 H171.5 M167.5,1030.0 H171.5 M167.5,1035.0 H171.5 M167.5,1039.9 H171.5 M167.5,1044.8 H175.5 M167.5,1049.7 H171.5 M167.5,1054.6 H171.5 M167.5,1059.6 H171.5 M167.5,1064.5 H171.5 M167.5,1069.4 H175.5 M167.5,1074.3 H171.5 M167.5,1079.2 H171.5 M167.5,1084.2 H171.5 M167.5,1089.1 H171.5 M167.5,1094.0 H175.5 M167.5,1098.9 H171.5 M167.5,1103.8 H171.5 M167.5,1108.8 H171.5 M167.5,1113.7 H171.5 M186.5,1119.4 V1112.9 M223.5,1119.4 V1115.4 M260.5,1119.4 V1112.9 M297.5,1119.4 V1115.4 M334.5,1119.4 V1112.9 M371.5,1119.4 V1115.4 M408.5,1119.4 V1112.9 M445.5,1119.4 V1115.4 M482.5,1119.4 V1112.9 M519.5,1119.4 V1115.4 M556.5,1119.4 V1112.9 M593.5,1119.4 V1115.4 " stroke="#222" stroke-width="1.6" fill="none" />
<rect x="167.5" y="946.5" width="463.7" height="172.9" fill="none" stroke="#222" stroke-width="2.6"/>
<line x1="168.0" y1="946.5" x2="168.0" y2="1119.4" stroke="#222" stroke-width="3.6" />
<path d="M167.5,1095.3 H241.5 V1009 H245.3 V1095.3 H613.2" stroke="#6bbf4c" stroke-width="2.8" fill="none" stroke-linejoin="round"/>
<text x="320.0" y="1063.8" font-size="38.5" text-anchor="start" font-weight="normal" font-style="normal" fill="#111" xml:space="preserve">100 ms 0.19 μW</text>
<path d="M805.4,951.3 H809.4 M805.4,956.2 H809.4 M805.4,961.2 H809.4 M805.4,966.1 H809.4 M805.4,971.0 H813.4 M805.4,975.9 H809.4 M805.4,980.8 H809.4 M805.4,985.8 H809.4 M805.4,990.7 H809.4 M805.4,995.6 H813.4 M805.4,1000.5 H809.4 M805.4,1005.4 H809.4 M805.4,1010.4 H809.4 M805.4,1015.3 H809.4 M805.4,1020.2 H813.4 M805.4,1025.1 H809.4 M805.4,1030.0 H809.4 M805.4,1035.0 H809.4 M805.4,1039.9 H809.4 M805.4,1044.8 H813.4 M805.4,1049.7 H809.4 M805.4,1054.6 H809.4 M805.4,1059.6 H809.4 M805.4,1064.5 H809.4 M805.4,1069.4 H813.4 M805.4,1074.3 H809.4 M805.4,1079.2 H809.4 M805.4,1084.2 H809.4 M805.4,1089.1 H809.4 M805.4,1094.0 H813.4 M805.4,1098.9 H809.4 M805.4,1103.8 H809.4 M805.4,1108.8 H809.4 M805.4,1113.7 H809.4 M805.4,1118.6 H813.4 M824.0,1121.5 V1115.0 M861.0,1121.5 V1117.5 M898.0,1121.5 V1115.0 M935.0,1121.5 V1117.5 M972.0,1121.5 V1115.0 M1009.0,1121.5 V1117.5 M1046.0,1121.5 V1115.0 M1083.0,1121.5 V1117.5 M1120.0,1121.5 V1115.0 M1157.0,1121.5 V1117.5 M1194.0,1121.5 V1115.0 M1231.0,1121.5 V1117.5 " stroke="#222" stroke-width="1.6" fill="none" />
<rect x="805.4" y="948" width="463.0" height="173.5" fill="none" stroke="#222" stroke-width="2.6"/>
<line x1="805.9" y1="948.0" x2="805.9" y2="1121.5" stroke="#222" stroke-width="3.6" />
<path d="M805.4,1097 H878.6 V961.7 H882.2 V1097 H1250.4" stroke="#6bbf4c" stroke-width="2.8" fill="none" stroke-linejoin="round"/>
<text x="941.5" y="1063.5" font-size="38.5" text-anchor="start" font-weight="normal" font-style="normal" fill="#111" xml:space="preserve">100 ms   28 μW</text>
<path d="M185.3,1512.5 V1505.5 M222.3,1512.5 V1508.5 M259.3,1512.5 V1505.5 M296.3,1512.5 V1508.5 M333.3,1512.5 V1505.5 M370.3,1512.5 V1508.5 M407.3,1512.5 V1505.5 M444.3,1512.5 V1508.5 M481.3,1512.5 V1505.5 M518.3,1512.5 V1508.5 M555.3,1512.5 V1505.5 M592.3,1512.5 V1508.5 M167,1184.0 H174 M167,1226.4 H171 M167,1268.7 H174 M167,1311.0 H171 M167,1353.4 H174 M167,1395.8 H171 M167,1438.1 H174 M167,1480.5 H171 " stroke="#222" stroke-width="2" fill="none" />
<rect x="167" y="1141.4" width="462.3" height="371.1" fill="none" stroke="#222" stroke-width="2.6"/>
<text x="185.3" y="1547.6" font-size="38.5" text-anchor="middle" font-weight="normal" font-style="normal" fill="#111" >0</text>
<text x="259.3" y="1547.6" font-size="38.5" text-anchor="middle" font-weight="normal" font-style="normal" fill="#111" >2</text>
<text x="333.3" y="1547.6" font-size="38.5" text-anchor="middle" font-weight="normal" font-style="normal" fill="#111" >4</text>
<text x="407.3" y="1547.6" font-size="38.5" text-anchor="middle" font-weight="normal" font-style="normal" fill="#111" >6</text>
<text x="481.3" y="1547.6" font-size="38.5" text-anchor="middle" font-weight="normal" font-style="normal" fill="#111" >8</text>
<text x="557.8" y="1547.6" font-size="38.5" text-anchor="middle" font-weight="normal" font-style="normal" fill="#111" >10</text>
<text x="633.3" y="1547.6" font-size="38.5" text-anchor="middle" font-weight="normal" font-style="normal" fill="#111" >12</text>
<text x="160.5" y="1196.3" font-size="38.5" text-anchor="end" font-weight="normal" font-style="normal" fill="#111" >0.16</text>
<text x="160.5" y="1281.0" font-size="38.5" text-anchor="end" font-weight="normal" font-style="normal" fill="#111" >0.15</text>
<text x="160.5" y="1365.7" font-size="38.5" text-anchor="end" font-weight="normal" font-style="normal" fill="#111" >0.14</text>
<text x="160.5" y="1450.4" font-size="38.5" text-anchor="end" font-weight="normal" font-style="normal" fill="#111" >0.13</text>
<path d="M825.0,1512.7 V1505.7 M862.0,1512.7 V1508.7 M899.0,1512.7 V1505.7 M936.0,1512.7 V1508.7 M973.0,1512.7 V1505.7 M1010.0,1512.7 V1508.7 M1047.0,1512.7 V1505.7 M1084.0,1512.7 V1508.7 M1121.0,1512.7 V1505.7 M1158.0,1512.7 V1508.7 M1195.0,1512.7 V1505.7 M1232.0,1512.7 V1508.7 M805.8,1478.5 H812.8 M805.8,1428.1 H809.8 M805.8,1377.7 H812.8 M805.8,1327.3 H809.8 M805.8,1276.9 H812.8 M805.8,1226.5 H809.8 M805.8,1176.1 H812.8 " stroke="#222" stroke-width="2" fill="none" />
<rect x="805.8" y="1142.7" width="463.4" height="370.0" fill="none" stroke="#222" stroke-width="2.6"/>
<text x="825.0" y="1547.6" font-size="38.5" text-anchor="middle" font-weight="normal" font-style="normal" fill="#111" >0</text>
<text x="899.0" y="1547.6" font-size="38.5" text-anchor="middle" font-weight="normal" font-style="normal" fill="#111" >2</text>
<text x="973.0" y="1547.6" font-size="38.5" text-anchor="middle" font-weight="normal" font-style="normal" fill="#111" >4</text>
<text x="1047.0" y="1547.6" font-size="38.5" text-anchor="middle" font-weight="normal" font-style="normal" fill="#111" >6</text>
<text x="1121.0" y="1547.6" font-size="38.5" text-anchor="middle" font-weight="normal" font-style="normal" fill="#111" >8</text>
<text x="1197.5" y="1547.6" font-size="38.5" text-anchor="middle" font-weight="normal" font-style="normal" fill="#111" >10</text>
<text x="1273.0" y="1547.6" font-size="38.5" text-anchor="middle" font-weight="normal" font-style="normal" fill="#111" >12</text>
<text x="802.8" y="1188.0" font-size="38.5" text-anchor="end" font-weight="normal" font-style="normal" fill="#111" >45</text>
<text x="802.8" y="1288.8" font-size="38.5" text-anchor="end" font-weight="normal" font-style="normal" fill="#111" >30</text>
<text x="802.8" y="1389.6" font-size="38.5" text-anchor="end" font-weight="normal" font-style="normal" fill="#111" >15</text>
<text x="802.8" y="1490.4" font-size="38.5" text-anchor="end" font-weight="normal" font-style="normal" fill="#111" >0</text>
<text x="403.6" y="1605.4" font-size="44.3" text-anchor="middle" font-weight="normal" font-style="normal" fill="#111" >Time (s)</text>
<text x="1044.4" y="1605.8" font-size="44.3" text-anchor="middle" font-weight="normal" font-style="normal" fill="#111" >Time (s)</text>
<text x="0.0" y="0.0" font-size="42.5" text-anchor="middle" font-weight="normal" font-style="normal" fill="#111" transform="translate(43.7,1308.7) rotate(-90)">Current (nA)</text>
<text x="0.0" y="0.0" font-size="43" text-anchor="middle" font-weight="normal" font-style="normal" fill="#111" transform="translate(715.5,1311.7) rotate(-90)">Current (nA)</text>
<text x="0.0" y="0.0" font-size="43.5" text-anchor="middle" font-weight="normal" font-style="normal" fill="#111" transform="translate(43.6,1023.5) rotate(-90)">Power</text>
<text x="0.0" y="0.0" font-size="43" text-anchor="middle" font-weight="normal" font-style="normal" fill="#111" transform="translate(94.5,1024.5) rotate(-90)">(μW)</text>
<text x="0.0" y="0.0" font-size="43.5" text-anchor="middle" font-weight="normal" font-style="normal" fill="#111" transform="translate(708.6,1024) rotate(-90)">Power</text>
<text x="0.0" y="0.0" font-size="43" text-anchor="middle" font-weight="normal" font-style="normal" fill="#111" transform="translate(760.3,1027) rotate(-90)">(μW)</text>
<text x="12.0" y="925.7" font-size="57" text-anchor="start" font-weight="bold" font-style="normal" fill="#111" transform="translate(12,0) scale(0.9,1) translate(-12,0)">e</text>
<text x="686.0" y="924.4" font-size="57" text-anchor="start" font-weight="bold" font-style="normal" fill="#111" transform="translate(686,0) scale(0.9,1) translate(-686,0)">f</text>
<path d="M187.9,1471.5 L191.5,1475.0 L195.8,1477.4 L199.5,1472.0 L201.5,1474.0 L205.6,1481.3 L208.5,1476.0 L211.5,1471.5 L214.0,1468.0 L217.4,1463.6 L219.5,1468.0 L221.4,1469.5 L225.3,1465.6 L228.0,1470.0 L230.2,1474.4 L235.2,1474.4 L239.1,1470.5 L241.1,1465.6 L242.5,1300.0 L243.2,1189.7 L244.2,1181.0 L247.8,1181.0 L250.0,1199.6 L251.9,1229.0 L254.9,1252.8 L258.8,1268.5 L260.8,1280.3 L263.7,1278.4 L265.7,1286.3 L269.7,1298.0 L273.6,1311.9 L276.6,1325.7 L280.5,1319.8 L283.4,1313.8 L285.4,1327.6 L287.4,1353.2 L290.3,1353.2 L294.3,1347.3 L298.2,1347.3 L302.2,1345.4 L306.1,1359.2 L311.0,1373.0 L316.0,1363.1 L318.9,1361.1 L321.9,1374.9 L326.8,1371.0 L331.7,1386.7 L335.7,1398.6 L339.6,1390.7 L343.5,1400.5 L349.5,1402.5 L355.4,1410.4 L359.3,1412.4 L365.2,1426.2 L370.1,1424.2 L375.1,1420.2 L379.0,1416.3 L385.9,1412.4 L388.9,1416.3 L392.8,1432.1 L396.7,1441.9 L402.7,1441.9 L406.9,1432.9 L411.0,1430.5 L417.3,1430.3 L422.5,1432.0 L427.7,1440.7 L432.9,1433.7 L437.0,1444.0 L441.5,1451.9 L448.5,1441.5 L457.1,1438.9 L464.0,1441.5 L471.0,1448.5 L476.2,1445.0 L482.2,1452.8 L486.5,1438.9 L491.7,1443.3 L498.6,1457.1 L507.3,1453.7 L514.2,1446.7 L517.7,1457.1 L524.6,1450.2 L531.5,1443.3 L538.5,1455.4 L543.6,1455.4 L550.6,1460.6 L559.2,1448.5 L566.1,1453.7 L574.8,1464.0 L581.7,1457.1 L588.6,1469.2 L593.8,1453.7 L597.3,1457.1 L600.8,1472.7 L605.1,1474.4 L609.4,1461.4" stroke="#c0d9ea" stroke-width="4.2" fill="none" stroke-linejoin="round"/>
<path d="M232.9,1479.2 H620" stroke="#2f6a6a" stroke-width="2.8" fill="none" stroke-dasharray="13,12.4"/>
<path d="M291.0,1228.1 C292.3,1231.0 296.2,1240.3 298.6,1245.8 C301.0,1251.3 302.9,1255.7 305.4,1261.1 C307.9,1266.5 311.0,1272.7 313.8,1278.0 C316.6,1283.3 319.5,1288.4 322.3,1293.2 C325.1,1298.0 327.7,1302.3 330.8,1306.8 C333.9,1311.3 337.5,1316.1 340.9,1320.3 C344.3,1324.5 347.2,1328.2 351.1,1332.2 C355.1,1336.2 359.5,1339.9 364.6,1344.0 C369.7,1348.1 375.9,1352.9 381.5,1356.7 C387.1,1360.5 392.9,1363.7 398.5,1366.8 C404.1,1369.9 409.8,1372.6 415.4,1375.3 C421.0,1378.0 426.7,1380.4 432.3,1382.9 C437.9,1385.4 443.6,1388.1 449.2,1390.5 C454.8,1392.9 460.9,1395.1 466.2,1397.3 C471.5,1399.5 478.5,1402.5 481.0,1403.6" stroke="#2c6e6c" stroke-width="4.8" fill="none" />
<path d="M495.5,1410.5 L475.5,1415 L479.5,1396.5 Z" stroke="none" stroke-width="1" fill="#2c6e6c" />
<text x="0" y="0" font-size="38.5" fill="#2e7571" transform="translate(336,1229) rotate(46.5)">Fast decay</text>
<text x="520.6" y="1196.8" font-size="39" text-anchor="start" font-weight="normal" font-style="normal" fill="#111" >STP</text>
<text x="260.5" y="1186.2" font-size="40" text-anchor="start" font-weight="normal" font-style="italic" fill="#111" >I</text>
<text x="276.5" y="1201.5" font-size="25.8" text-anchor="start" font-weight="normal" font-style="normal" fill="#111" >max</text>
<text x="567.3" y="1416.8" font-size="40" text-anchor="start" font-weight="normal" font-style="italic" fill="#111" >I</text>
<text x="584.5" y="1431.5" font-size="25.8" text-anchor="start" font-weight="normal" font-style="normal" fill="#111" >r</text>
<text x="187.0" y="1445.3" font-size="40" text-anchor="start" font-weight="normal" font-style="italic" fill="#111" >I</text>
<text x="202.5" y="1461.3" font-size="25.8" text-anchor="start" font-weight="normal" font-style="normal" fill="#111" >off</text>
<path d="M825.0,1478.5 L879.5,1478.5 L881.0,1300.0 L882.4,1183.0 L883.4,1183.0 L884.2,1223.8 L885.5,1225.5 L887.5,1230.2 L889.5,1240.1 L891.5,1242.2 L893.5,1245.3 L895.5,1246.4 L897.5,1247.2 L899.5,1249.5 L901.5,1251.1 L903.5,1254.2 L905.5,1254.8 L907.5,1256.2 L909.5,1258.1 L911.5,1260.4 L913.5,1260.5 L915.5,1263.5 L917.5,1265.4 L919.5,1266.5 L921.5,1266.8 L923.5,1268.0 L925.5,1270.3 L927.5,1269.3 L929.5,1271.7 L931.5,1271.4 L933.5,1271.9 L935.5,1272.7 L937.5,1273.8 L939.5,1275.6 L941.5,1275.0 L943.5,1276.6 L945.5,1278.0 L947.5,1278.9 L949.5,1279.7 L951.5,1278.4 L953.5,1278.1 L955.5,1278.8 L957.5,1281.3 L959.5,1282.3 L961.5,1281.4 L963.5,1279.9 L965.5,1279.0 L967.5,1279.3 L969.5,1280.9 L971.5,1281.3 L973.5,1281.5 L975.5,1283.4 L977.5,1284.6 L979.5,1285.9 L981.5,1285.4 L983.5,1284.3 L985.5,1285.5 L987.5,1283.6 L989.5,1284.1 L991.5,1285.2 L993.5,1284.3 L995.5,1285.4 L997.5,1284.9 L999.5,1286.5 L1001.5,1286.9 L1003.5,1286.7 L1005.5,1287.4 L1007.5,1286.4 L1009.5,1287.3 L1011.5,1287.3 L1013.5,1287.7 L1015.5,1287.9 L1017.5,1289.0 L1019.5,1289.7 L1021.5,1289.1 L1023.5,1289.9 L1025.5,1289.1 L1027.5,1290.8 L1029.5,1291.1 L1031.5,1292.2 L1033.5,1292.0 L1035.5,1291.2 L1037.5,1291.5 L1039.5,1292.3 L1041.5,1291.2 L1043.5,1292.3 L1045.5,1291.9 L1047.5,1292.0 L1049.5,1292.0 L1051.5,1293.7 L1053.5,1292.8 L1055.5,1293.5 L1057.5,1294.3 L1059.5,1295.7 L1061.5,1294.6 L1063.5,1295.9 L1065.5,1296.4 L1067.5,1297.0 L1069.5,1296.7 L1071.5,1296.8 L1073.5,1295.5 L1075.5,1295.7 L1077.5,1295.5 L1079.5,1296.5 L1081.5,1296.5 L1083.5,1294.9 L1085.5,1294.8 L1087.5,1294.9 L1089.5,1294.8 L1091.5,1296.2 L1093.5,1297.4 L1095.5,1297.8 L1097.5,1298.3 L1099.5,1298.6 L1101.5,1297.4 L1103.5,1296.8 L1105.5,1297.6 L1107.5,1297.6 L1109.5,1297.9 L1111.5,1298.6 L1113.5,1299.3 L1115.5,1298.7 L1117.5,1300.9 L1119.5,1301.1 L1121.5,1301.4 L1123.5,1301.4 L1125.5,1300.7 L1127.5,1300.8 L1129.5,1300.4 L1131.5,1301.5 L1133.5,1300.5 L1135.5,1300.7 L1137.5,1301.3 L1139.5,1301.7 L1141.5,1302.4 L1143.5,1302.2 L1145.5,1302.5 L1147.5,1302.8 L1149.5,1302.6 L1151.5,1303.0 L1153.5,1302.2 L1155.5,1303.8 L1157.5,1303.1 L1159.5,1302.1 L1161.5,1302.2 L1163.5,1302.7 L1165.5,1303.6 L1167.5,1303.9 L1169.5,1306.1 L1171.5,1307.2 L1173.5,1306.5 L1175.5,1306.3 L1177.5,1305.2 L1179.5,1305.0 L1181.5,1305.2 L1183.5,1304.8 L1185.5,1305.6 L1187.5,1304.1 L1189.5,1304.4 L1191.5,1306.9 L1193.5,1306.7 L1195.5,1306.5 L1197.5,1307.9 L1199.5,1307.5 L1201.5,1309.1 L1203.5,1310.6 L1205.5,1310.5 L1207.5,1310.2 L1209.5,1309.3 L1211.5,1309.5 L1213.5,1309.1 L1215.5,1310.0 L1217.5,1308.9 L1219.5,1308.9 L1221.5,1307.4 L1223.5,1307.0 L1225.5,1308.5 L1227.5,1309.2 L1229.5,1309.3 L1231.5,1309.4 L1233.5,1309.4 L1235.5,1309.3 L1237.5,1308.3 L1239.5,1308.8 L1241.5,1308.5 L1243.5,1307.9 L1245.5,1307.9 L1247.5,1308.4 L1249.6,1308.8" stroke="#2c47a8" stroke-width="4.2" fill="none" stroke-linejoin="round"/>
<path d="M880,1478.4 H1269" stroke="#3f9e9a" stroke-width="2.6" fill="none" stroke-dasharray="12.5,12.7"/>
<path d="M1106.8,1309.2 H1269" stroke="#3f9e9a" stroke-width="2.6" fill="none" stroke-dasharray="13,11.8"/>
<path d="M1168,1372 V1336" stroke="#2c7b78" stroke-width="2.6" fill="none" />
<path d="M1168,1326 L1163.5,1340 L1172.5,1340 Z" stroke="none" stroke-width="1" fill="#2c7b78" />
<path d="M1168,1420.4 V1460" stroke="#2c7b78" stroke-width="2.6" fill="none" />
<path d="M1168,1470.4 L1163.5,1456 L1172.5,1456 Z" stroke="none" stroke-width="1" fill="#2c7b78" />
<text x="997.0" y="1402.3" font-size="28.8" text-anchor="start" font-weight="normal" font-style="normal" fill="#2e8784" >Stable memory state</text>
<text x="1181.2" y="1186.6" font-size="38.5" text-anchor="start" font-weight="normal" font-style="normal" fill="#111" >LTP</text>
<text x="899.5" y="1190.2" font-size="40" text-anchor="start" font-weight="normal" font-style="italic" fill="#111" >I</text>
<text x="915.0" y="1205.5" font-size="25.8" text-anchor="start" font-weight="normal" font-style="normal" fill="#111" >max</text>
<text x="1223.5" y="1287.7" font-size="40" text-anchor="start" font-weight="normal" font-style="italic" fill="#111" >I</text>
<text x="1238.5" y="1303.0" font-size="25.8" text-anchor="start" font-weight="normal" font-style="normal" fill="#111" >r</text>
<text x="824.0" y="1453.0" font-size="40" text-anchor="start" font-weight="normal" font-style="italic" fill="#111" >I</text>
<text x="840.0" y="1467.7" font-size="25.8" text-anchor="start" font-weight="normal" font-style="normal" fill="#111" >off</text>
</svg></body></html>
